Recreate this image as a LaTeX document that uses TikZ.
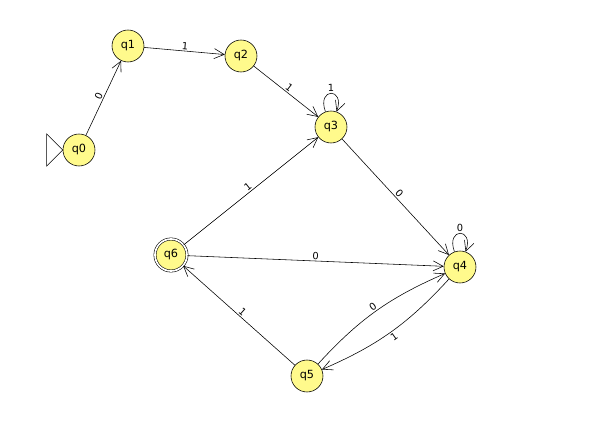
\documentclass[tikz,border=0pt]{standalone}
\usepackage{fontspec}
\setmainfont{DejaVu Sans}
\usetikzlibrary{arrows.meta}
\definecolor{stfill}{RGB}{255,250,140}
\tikzset{
  state/.style={circle, draw, fill=stfill, minimum size=0.8cm, inner sep=0pt, font=\footnotesize},
  accept/.style={state, double, double distance=1.2pt},
  trans/.style={-{Straight Barb[length=2.5mm,width=2.5mm]}, line width=0.4pt},
  lbl/.style={font=\scriptsize, sloped, above, inner sep=1pt}
}
\begin{document}
\begin{tikzpicture}[x=0.025cm, y=-0.025cm]
\useasboundingbox (0,0) rectangle (600,444);
\node[state] (q0) at (79,150) {q0};
\node[state] (q1) at (128,46) {q1};
\node[state] (q2) at (241,56) {q2};
\node[state] (q3) at (331,127) {q3};
\node[state] (q4) at (460,267) {q4};
\node[state] (q5) at (307,376) {q5};
\node[accept] (q6) at (171,255) {q6};
% start marker
\draw (q0.west) -- ++(-16,-16) -- ++(0,32) -- cycle;
\draw[trans] (q0) -- node[lbl] {0} (q1);
\draw[trans] (q1) -- node[lbl] {1} (q2);
\draw[trans] (q2) -- node[lbl] {1} (q3);
\draw[trans] (q3) to[out=110, in=70, looseness=6] node[above, font=\scriptsize, inner sep=1pt] {1} (q3);
\draw[trans] (q3) -- node[lbl] {0} (q4);
\draw[trans] (q4) to[out=110, in=70, looseness=6] node[above, font=\scriptsize, inner sep=1pt] {0} (q4);
\draw[trans] (q6) -- node[lbl] {1} (q3);
\draw[trans] (q6) -- node[lbl] {0} (q4);
\draw[trans] (q5) -- node[lbl] {1} (q6);
\draw[trans] (q5) to[bend left=12] node[lbl] {0} (q4);
\draw[trans] (q4) to[bend left=12] node[lbl, below] {1} (q5);
\end{tikzpicture}
\end{document}
